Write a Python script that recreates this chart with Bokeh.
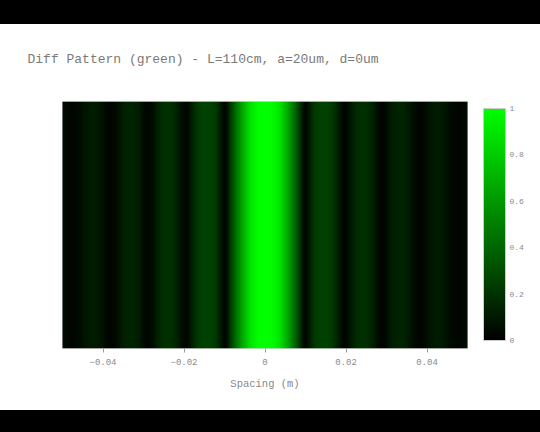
import numpy as np
from bokeh.plotting import figure
from bokeh.models import LinearColorMapper, ColorBar, FixedTicker, Spacer, Title
from bokeh.layouts import column
from bokeh.embed import file_html
from bokeh.resources import INLINE

# Screen positions (m): -0.050 .. 0.050, step 0.0005
positions = [round(-0.05 + 0.0005 * i, 4) for i in range(201)]
# Relative intensity, left to right
intensity = [
    0.06, 0.05, 0.04, 0.03, 0.02, 0.02, 0.02, 0.03, 0.04, 0.05,
    0.07, 0.08, 0.09, 0.10, 0.11, 0.11, 0.11, 0.10, 0.09, 0.08,
    0.06, 0.04, 0.02, 0.02, 0.02, 0.03, 0.04, 0.06, 0.08, 0.10,
    0.12, 0.13, 0.14, 0.14, 0.14, 0.14, 0.13, 0.12, 0.10, 0.08,
    0.05, 0.03, 0.02, 0.03, 0.05, 0.07, 0.10, 0.13, 0.15, 0.17,
    0.18, 0.19, 0.19, 0.19, 0.18, 0.17, 0.15, 0.12, 0.09, 0.06,
    0.03, 0.02, 0.05, 0.09, 0.13, 0.17, 0.20, 0.23, 0.24, 0.25,
    0.25, 0.25, 0.25, 0.25, 0.24, 0.23, 0.20, 0.16, 0.11, 0.06,
    0.02, 0.05, 0.13, 0.22, 0.30, 0.38, 0.45, 0.52, 0.59, 0.66,
    0.72, 0.78, 0.84, 0.89, 0.92, 0.95, 0.97, 0.99, 0.99, 1.00,
    1.00,
    1.00, 0.99, 0.99, 0.97, 0.95, 0.92, 0.89, 0.84, 0.78, 0.72,
    0.66, 0.59, 0.52, 0.45, 0.38, 0.30, 0.22, 0.13, 0.05, 0.02,
    0.06, 0.11, 0.16, 0.20, 0.23, 0.24, 0.25, 0.25, 0.25, 0.25,
    0.25, 0.24, 0.23, 0.20, 0.17, 0.13, 0.09, 0.05, 0.02, 0.03,
    0.06, 0.09, 0.12, 0.15, 0.17, 0.18, 0.19, 0.19, 0.19, 0.18,
    0.17, 0.15, 0.13, 0.10, 0.07, 0.05, 0.03, 0.02, 0.03, 0.05,
    0.08, 0.10, 0.12, 0.13, 0.14, 0.14, 0.14, 0.14, 0.13, 0.12,
    0.10, 0.08, 0.06, 0.04, 0.03, 0.02, 0.02, 0.02, 0.04, 0.06,
    0.08, 0.09, 0.10, 0.11, 0.11, 0.11, 0.10, 0.09, 0.08, 0.07,
    0.05, 0.04, 0.03, 0.02, 0.02, 0.02, 0.03, 0.04, 0.05, 0.06,
]
assert len(intensity) == len(positions)
x_ticks = [-0.04, -0.02, 0, 0.02, 0.04]
x_tick_labels = ["\u22120.04", "\u22120.02", "0", "0.02", "0.04"]
cb_ticks = [0, 0.2, 0.4, 0.6, 0.8, 1]
cb_tick_labels = ["0", "0.2", "0.4", "0.6", "0.8", "1"]
title_text = "Diff Pattern (green) - L=110cm, a=20um, d=0um"

FONT = "Liberation Mono"
GREY = "#8a8a8a"

palette = ["#%02x%02x%02x" % (0, i, 0) for i in range(256)]
mapper = LinearColorMapper(palette=palette, low=0, high=1)

p = figure(width=540, height=386, output_backend="svg", toolbar_location=None,
           x_range=(-0.05, 0.05), y_range=(0, 1), tools="",
           min_border_left=62, min_border_right=73, min_border_top=77, min_border_bottom=62)
p.title = None

# spacer title (closest to the frame) followed by the real title above it
gap_title = Title(text=" ", text_font=FONT, text_font_size="13px", standoff=18)
main_title = Title(text=title_text, text_font=FONT, text_font_size="13px",
                   text_font_style="normal", text_color="#7a7a7a", offset=-35, standoff=0)
p.add_layout(gap_title, "above")
p.add_layout(main_title, "above")

img = np.array([intensity], dtype=float)
step = positions[1] - positions[0]
p.image(image=[img], x=positions[0] - step / 2, y=0, dw=step * len(positions), dh=1,
        color_mapper=mapper)

p.grid.visible = False
p.yaxis.visible = False
p.outline_line_color = "#d8d8d8"
p.xaxis.ticker = FixedTicker(ticks=x_ticks)
p.xaxis.major_label_overrides = {t: l for t, l in zip(x_ticks, x_tick_labels)}
p.xaxis.minor_tick_line_color = None
p.xaxis.axis_line_color = None
p.xaxis.major_tick_line_color = "#9a9a9a"
p.xaxis.major_tick_out = 4
p.xaxis.major_tick_in = 0
p.xaxis.major_label_text_font = FONT
p.xaxis.major_label_text_font_size = "9px"
p.xaxis.major_label_text_color = GREY
p.xaxis.major_label_standoff = 6
p.xaxis.axis_label = "Spacing (m)"
p.xaxis.axis_label_text_font = FONT
p.xaxis.axis_label_text_font_size = "10.5px"
p.xaxis.axis_label_text_font_style = "normal"
p.xaxis.axis_label_text_color = GREY
p.xaxis.axis_label_standoff = 10

cb = ColorBar(color_mapper=mapper, width=22, height=232, location=(6, -2),
              margin=13, padding=10, ticker=FixedTicker(ticks=cb_ticks),
              major_label_overrides={t: l for t, l in zip(cb_ticks, cb_tick_labels)},
              major_tick_line_color=None, minor_tick_line_color=None,
              major_label_text_font=FONT, major_label_text_font_size="8px",
              major_label_text_color=GREY, label_standoff=4,
              bar_line_color="#cccccc", background_fill_alpha=0, border_line_color=None)
p.add_layout(cb, "right")

top_bar = Spacer(width=540, height=24, styles={"background-color": "#000000"})
bottom_bar = Spacer(width=540, height=22, styles={"background-color": "#000000"})
layout = column(top_bar, p, bottom_bar, spacing=0)
html = file_html(layout, INLINE)
html = html.replace("<head>", "<head><style>html,body{margin:0;padding:0;background:#ffffff;overflow:hidden;}</style>", 1)
open("out.html", "w").write(html)
